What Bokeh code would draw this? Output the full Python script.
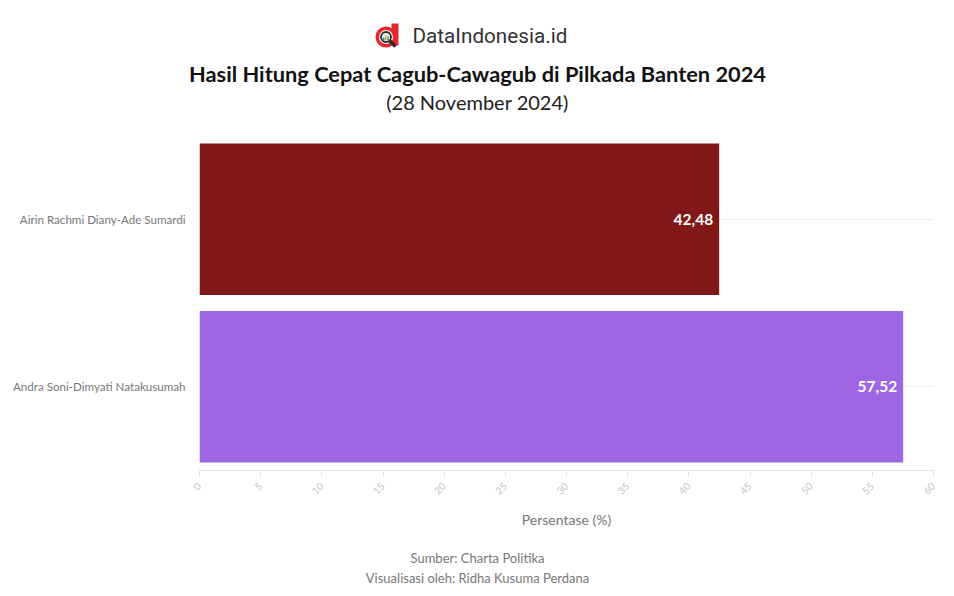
import math
from bokeh.plotting import figure
from bokeh.layouts import column
from bokeh.models import (FactorRange, Range1d, ColumnDataSource, LabelSet, FixedTicker)
from bokeh.core.properties import value
from bokeh.embed import file_html
from bokeh.resources import INLINE

# ---- data ----
candidates = ["Airin Rachmi Diany-Ade Sumardi", "Andra Soni-Dimyati Natakusumah"]
percentages = [42.48, 57.52]
bar_colors = ["#801818", "#9F66E3"]
x_ticks = [0, 5, 10, 15, 20, 25, 30, 35, 40, 45, 50, 55, 60]

title_text = "Hasil Hitung Cepat Cagub-Cawagub di Pilkada Banten 2024"
subtitle_text = "(28 November 2024)"
brand_text = "DataIndonesia.id"
source_text = "Sumber: Charta Politika"
credit_text = "Visualisasi oleh: Ridha Kusuma Perdana"
axis_title = "Persentase (%)"

FONT = "Lato"
W = 938
FL, FR = 199, 933          # frame left/right (page px)
H1, H2, H3 = 128, 410, 52


def blank_fig(h, y0):
    # data coordinates equal page pixel coordinates
    f = figure(width=W, height=h, output_backend="svg", toolbar_location=None,
               x_range=Range1d(0, W), y_range=Range1d(y0 + h, y0),
               x_axis_location=None, y_axis_location=None,
               min_border_left=0, min_border_right=0,
               min_border_top=0, min_border_bottom=0)
    f.frame_align = False
    f.outline_line_color = None
    f.grid.visible = False
    f.background_fill_color = "white"
    f.border_fill_color = "white"
    return f


# ---- header ----
hdr = blank_fig(H1, 0)
hdr.text(x=[477], y=[73], text=[title_text], text_font=value(FONT),
         text_font_size="21.8px", text_font_style="bold", text_color="#111111",
         text_align="center", text_baseline="middle")
hdr.text(x=[477], y=[101], text=[subtitle_text], text_font=value(FONT),
         text_font_size="20px", text_color="#222222",
         text_align="center", text_baseline="middle")
hdr.text(x=[412], y=[35], text=[brand_text], text_font=value("Roboto"),
         text_font_size="20.7px", text_color="#333333",
         text_align="left", text_baseline="middle")
# logo icon ("d" with magnifier)
hdr.quad(left=[391], right=[398], top=[23], bottom=[45], color="#e8262b", line_color=None)
hdr.circle(x=[385.5], y=[36.5], radius=10.5, color="#e8262b", line_color=None)
hdr.circle(x=[385.5], y=[36.5], radius=7, color="white", line_color=None)
hdr.segment(x0=[389], y0=[40], x1=[395], y1=[46], line_color="#2b2b2b", line_width=3.5)
hdr.circle(x=[385.5], y=[36.5], radius=5, fill_color="#e3f0fb", line_color="#2b2b2b",
           line_width=1.8)
hdr.quad(left=[382.5, 384.6, 386.7], right=[384, 386.1, 388.2], top=[37, 34.5, 36],
         bottom=[39.5, 39.5, 39.5], color=["#2a7fd4", "#f2b234", "#3aa655"], line_color=None)

# ---- main chart ----
p = figure(width=W, height=H2, output_backend="svg", toolbar_location=None,
           y_range=FactorRange(factors=list(reversed(candidates))),
           x_range=Range1d(0, 60),
           min_border_left=FL, min_border_right=W - FR,
           min_border_top=135 - H1, min_border_bottom=H1 + H2 - 470)
p.frame_align = False
p.outline_line_color = None
p.background_fill_color = "white"
p.border_fill_color = "white"

src = ColumnDataSource(dict(
    cand=candidates, val=percentages, color=bar_colors,
    lab=[f"{v:.2f}".replace(".", ",") for v in percentages],
))
p.hbar(y="cand", right="val", left=0, height=0.905, color="color", source=src,
       line_color=None)

labels = LabelSet(x="val", y="cand", text="lab", source=src, text_align="right",
                  text_baseline="middle", x_offset=-6, text_color="white",
                  text_font_size="15.5px", text_font_style="bold",
                  text_font=value(FONT))
p.add_layout(labels)

xa = p.xaxis[0]
xa.ticker = FixedTicker(ticks=x_ticks)
xa.axis_line_color = "#e6e6e6"
xa.major_tick_line_color = "#e6e6e6"
xa.minor_tick_line_color = None
xa.major_tick_out = 6
xa.major_tick_in = 0
xa.major_label_orientation = math.pi / 4
xa.major_label_standoff = 8
xa.major_label_text_color = "#c4c4c4"
xa.major_label_text_font_size = "10px"
xa.major_label_text_font = FONT
xa.axis_label = axis_title
xa.axis_label_text_font = FONT
xa.axis_label_text_font_size = "14px"
xa.axis_label_text_font_style = "normal"
xa.axis_label_text_color = "#777777"
xa.axis_label_standoff = 10

ya = p.yaxis[0]
ya.axis_line_color = None
ya.major_tick_line_color = None
ya.minor_tick_line_color = None
ya.major_label_text_color = "#777777"
ya.major_label_text_font_size = "11.6px"
ya.major_label_text_font = FONT
ya.major_label_standoff = 8

p.xgrid.grid_line_color = None
p.ygrid.grid_line_color = "#eeeeee"

# ---- footer ----
ftr = blank_fig(H3, H1 + H2)
ftr.text(x=[477, 477], y=[557, 577], text=[source_text, credit_text],
         text_font=value(FONT), text_font_size="13px", text_color="#777777",
         text_align="center", text_baseline="middle")

layout = column(hdr, p, ftr, spacing=0)
open("out.html", "w").write(file_html(layout, INLINE))
